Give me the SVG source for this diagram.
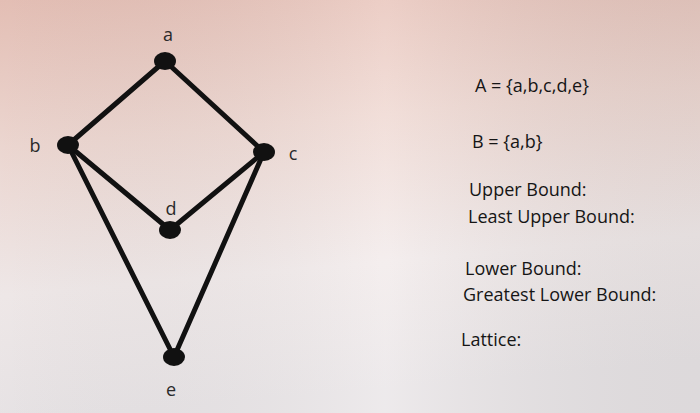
<svg xmlns="http://www.w3.org/2000/svg" width="700" height="413" viewBox="0 0 700 413">
<defs>
<linearGradient id="bg" x1="0" y1="0" x2="0.15" y2="1">
<stop offset="0" stop-color="#e8c2b8"/>
<stop offset="0.35" stop-color="#f0dad4"/>
<stop offset="0.7" stop-color="#f3ecec"/>
<stop offset="1" stop-color="#ebe7e9"/>
</linearGradient>
<linearGradient id="shade" x1="0" y1="0" x2="1" y2="0">
<stop offset="0" stop-color="#000" stop-opacity="0.02"/>
<stop offset="0.55" stop-color="#fff" stop-opacity="0.12"/>
<stop offset="1" stop-color="#000" stop-opacity="0.06"/>
</linearGradient>
</defs>
<style>
.edge{stroke:#111;stroke-width:5;stroke-linecap:round;fill:none}
.node{fill:#111}
.lbl{font-family:"Open Sans","Liberation Sans",sans-serif;font-size:18px;fill:#2a2a2a}
.txt{font-family:"Open Sans","Liberation Sans",sans-serif;font-size:18px;fill:#151515}
</style>
<rect width="700" height="413" fill="url(#bg)"/>
<rect width="700" height="413" fill="url(#shade)"/>
<g id="connectors">
<line class="edge" x1="165" y1="61" x2="68" y2="145"/>
<line class="edge" x1="165" y1="61" x2="264" y2="152"/>
<line class="edge" x1="68" y1="145" x2="170" y2="230"/>
<line class="edge" x1="170" y1="230" x2="264" y2="152"/>
<line class="edge" x1="68" y1="145" x2="174" y2="357"/>
<line class="edge" x1="264" y1="152" x2="174" y2="357"/>
</g>
<g id="node-a"><ellipse class="node" cx="165" cy="61" rx="11" ry="9"/><text class="lbl" x="168" y="41" text-anchor="middle">a</text></g>
<g id="node-b"><ellipse class="node" cx="68" cy="145" rx="11" ry="9"/><text class="lbl" x="35" y="152" text-anchor="middle">b</text></g>
<g id="node-c"><ellipse class="node" cx="264" cy="152" rx="11" ry="9"/><text class="lbl" x="293" y="160" text-anchor="middle">c</text></g>
<g id="node-d"><ellipse class="node" cx="170" cy="230" rx="11" ry="9"/><text class="lbl" x="171" y="215" text-anchor="middle">d</text></g>
<g id="node-e"><ellipse class="node" cx="174" cy="357" rx="11" ry="9"/><text class="lbl" x="171" y="396" text-anchor="middle">e</text></g>
<g id="text-panel">
<text class="txt" x="475" y="92">A = {a,b,c,d,e}</text>
<text class="txt" x="472" y="148">B = {a,b}</text>
<text class="txt" x="469" y="196">Upper Bound:</text>
<text class="txt" x="468" y="223">Least Upper Bound:</text>
<text class="txt" x="465" y="275">Lower Bound:</text>
<text class="txt" x="463" y="301">Greatest Lower Bound:</text>
<text class="txt" x="461" y="346">Lattice:</text>
</g>
</svg>
